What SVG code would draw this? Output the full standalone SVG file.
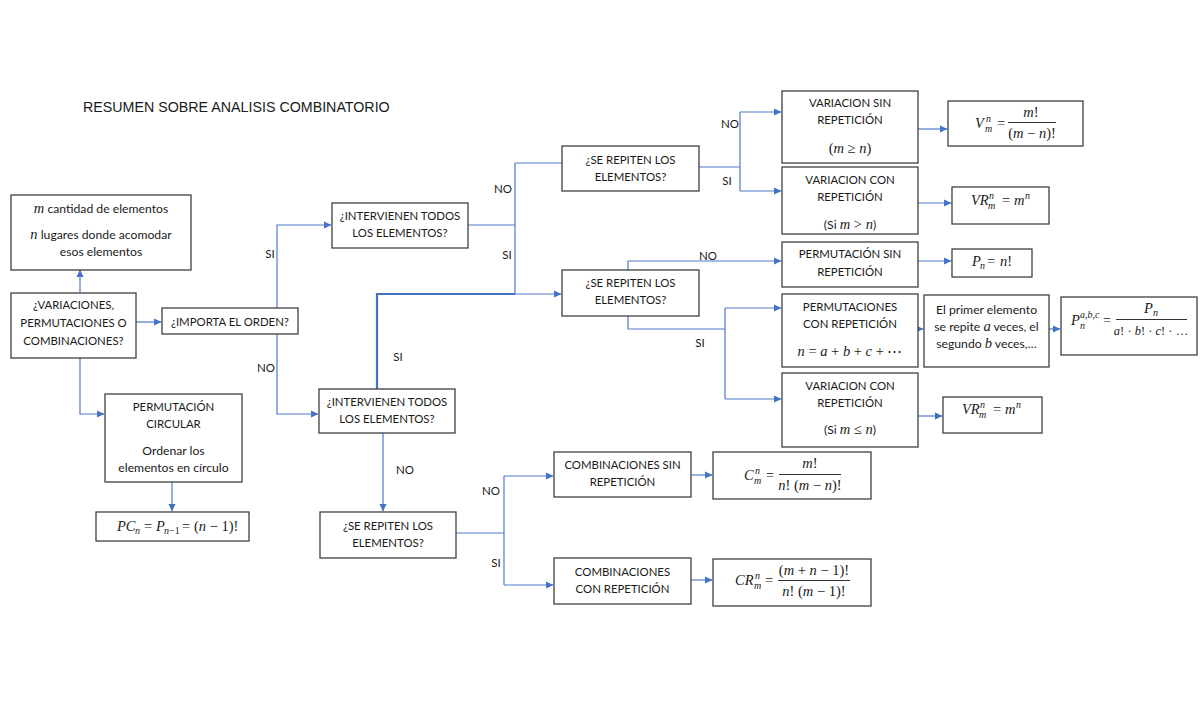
<svg xmlns="http://www.w3.org/2000/svg" width="1200" height="718" viewBox="0 0 1200 718">
<style>
.bx{fill:#fff;stroke:#3f3f3f;stroke-width:1.3}
.t{font-family:Lato,"Open Sans",sans-serif;font-size:11.4px;fill:#1a1a1a;text-anchor:middle}
.tl{font-family:Lato,"Open Sans",sans-serif;font-size:12.2px;fill:#1a1a1a;text-anchor:middle}
.lb{font-family:Lato,"Open Sans",sans-serif;font-size:11.5px;fill:#1a1a1a;text-anchor:middle}
.ttl{font-family:"Liberation Sans",Arial,sans-serif;font-size:14.25px;fill:#1a1a1a}
.m{font-family:"Liberation Serif","DejaVu Serif",serif;font-size:14.5px;fill:#1a1a1a}
.mc{font-family:"Liberation Serif","DejaVu Serif",serif;font-size:14.5px;fill:#1a1a1a;text-anchor:middle}
.i{font-style:italic}
.s{font-size:10px}
.c{fill:none;stroke:#4f7bcb;stroke-width:1.2}
.a{marker-end:url(#ah)}
.th{fill:none;stroke:#4472c4;stroke-width:2.2}
.fb{stroke:#1a1a1a;stroke-width:0.9}
</style>
<defs>
<marker id="ah" markerWidth="8" markerHeight="8" refX="7" refY="4" orient="auto" markerUnits="userSpaceOnUse"><path d="M0,0.5 L7.5,4 L0,7.5z" fill="#4472c4"/></marker>
</defs>
<rect width="1200" height="718" fill="#fff"/>
<text class="ttl" x="83" y="112">RESUMEN SOBRE ANALISIS COMBINATORIO</text>

<g id="connectors">
<path class="c a" d="M136,322 H161"/>
<path class="c a" d="M80,293 V270"/>
<path class="c a" d="M80,358 V414 H104"/>
<path class="c a" d="M172,482 V511"/>
<path class="c a" d="M277,308 V225 H331"/>
<path class="c a" d="M277,334 V414 H318"/>
<path class="c" d="M468,225 H515 M515,163 V294 M515,163 H562"/>
<path class="c a" d="M515,294 H561"/>
<path class="th" d="M377,389 V294 H515"/>
<path class="c" d="M699,167 H740 M740,112 V191"/>
<path class="c a" d="M740,112 H781"/>
<path class="c a" d="M740,191 H781"/>
<path class="c a" d="M918,129 H947"/>
<path class="c a" d="M918,203 H951"/>
<path class="c a" d="M628,270 V261 H781"/>
<path class="c" d="M628,316 V329 H725 M725,308 V399"/>
<path class="c a" d="M725,308 H781"/>
<path class="c a" d="M725,399 H781"/>
<path class="c a" d="M918,261 H951"/>
<path class="c a" d="M918,329 H923"/>
<path class="c a" d="M1049,329 H1060"/>
<path class="c a" d="M918,416 H942"/>
<path class="c a" d="M383,433 V511"/>
<path class="c" d="M456,533 H504 M504,476 V585"/>
<path class="c a" d="M504,476 H553"/>
<path class="c a" d="M504,585 H553"/>
<path class="c a" d="M691,475 H712"/>
<path class="c a" d="M691,580 H712"/>
</g>

<g id="labels">
<text class="lb" x="270" y="258">SI</text>
<text class="lb" x="266" y="372">NO</text>
<text class="lb" x="503" y="193">NO</text>
<text class="lb" x="507" y="259">SI</text>
<text class="lb" x="398" y="361">SI</text>
<text class="lb" x="730" y="128">NO</text>
<text class="lb" x="727" y="185">SI</text>
<text class="lb" x="708" y="260">NO</text>
<text class="lb" x="700" y="347">SI</text>
<text class="lb" x="405" y="474">NO</text>
<text class="lb" x="491" y="495">NO</text>
<text class="lb" x="496" y="567">SI</text>
</g>

<g id="n-info">
<rect class="bx" x="11" y="195" width="180" height="75"/>
<text class="tl" x="101" y="213"><tspan class="m i">m</tspan> cantidad de elementos</text>
<text class="tl" x="101" y="239"><tspan class="m i">n</tspan> lugares donde acomodar</text>
<text class="tl" x="101" y="256">esos elementos</text>
</g>
<g id="n-vpc">
<rect class="bx" x="11" y="293" width="125" height="65"/>
<text class="t" x="73.5" y="309">¿VARIACIONES,</text>
<text class="t" x="73.5" y="327">PERMUTACIONES O</text>
<text class="t" x="73.5" y="345">COMBINACIONES?</text>
</g>
<g id="n-orden">
<rect class="bx" x="162" y="308" width="136" height="26"/>
<text class="t" x="230" y="326">¿IMPORTA EL ORDEN?</text>
</g>
<g id="n-pcirc">
<rect class="bx" x="105" y="394" width="137" height="88"/>
<text class="t" x="173.5" y="411">PERMUTACIÓN</text>
<text class="t" x="173.5" y="428">CIRCULAR</text>
<text class="tl" x="173.5" y="455">Ordenar los</text>
<text class="tl" x="173.5" y="472">elementos en círculo</text>
</g>
<g id="n-pcf">
<rect class="bx" x="96" y="512" width="153" height="29"/>
<text class="m i" x="117" y="531">PC</text>
<text class="m i s" x="135" y="534">n</text>
<text class="mc" x="148" y="531">=</text>
<text class="m i" x="156" y="531">P</text>
<text class="m s" x="164" y="534"><tspan class="i">n</tspan>−1</text>
<text class="mc" x="186" y="531">=</text>
<text class="m" x="194" y="531">(<tspan class="i">n</tspan> − 1)!</text>
</g>
<g id="n-int1">
<rect class="bx" x="332" y="203" width="136" height="45"/>
<text class="t" x="400" y="220">¿INTERVIENEN TODOS</text>
<text class="t" x="400" y="237">LOS ELEMENTOS?</text>
</g>
<g id="n-int2">
<rect class="bx" x="319" y="389" width="136" height="44"/>
<text class="t" x="387" y="406">¿INTERVIENEN TODOS</text>
<text class="t" x="387" y="423">LOS ELEMENTOS?</text>
</g>
<g id="n-rep1">
<rect class="bx" x="562" y="146" width="137" height="45"/>
<text class="t" x="630.5" y="164">¿SE REPITEN LOS</text>
<text class="t" x="630.5" y="181">ELEMENTOS?</text>
</g>
<g id="n-rep2">
<rect class="bx" x="562" y="270" width="137" height="46"/>
<text class="t" x="630.5" y="287">¿SE REPITEN LOS</text>
<text class="t" x="630.5" y="304">ELEMENTOS?</text>
</g>
<g id="n-rep3">
<rect class="bx" x="320" y="512" width="136" height="46"/>
<text class="t" x="388" y="530">¿SE REPITEN LOS</text>
<text class="t" x="388" y="547">ELEMENTOS?</text>
</g>
<g id="n-vsr">
<rect class="bx" x="782" y="91" width="136" height="72"/>
<text class="t" x="850" y="107">VARIACION SIN</text>
<text class="t" x="850" y="124">REPETICIÓN</text>
<text class="mc" x="850" y="153">(<tspan class="i">m</tspan> ≥ <tspan class="i">n</tspan>)</text>
</g>
<g id="n-vcr1">
<rect class="bx" x="782" y="167" width="136" height="67"/>
<text class="t" x="850" y="184">VARIACION CON</text>
<text class="t" x="850" y="201">REPETICIÓN</text>
<text class="tl" x="850" y="229">(Si <tspan class="m i">m</tspan><tspan class="m"> &gt; </tspan><tspan class="m i">n</tspan>)</text>
</g>
<g id="n-psr">
<rect class="bx" x="782" y="242" width="136" height="45"/>
<text class="t" x="850" y="258">PERMUTACIÓN SIN</text>
<text class="t" x="850" y="276">REPETICIÓN</text>
</g>
<g id="n-pcr">
<rect class="bx" x="782" y="294" width="136" height="73"/>
<text class="t" x="850" y="311">PERMUTACIONES</text>
<text class="t" x="850" y="328">CON REPETICIÓN</text>
<text class="mc" x="850" y="356"><tspan class="i">n</tspan> = <tspan class="i">a</tspan> + <tspan class="i">b</tspan> + <tspan class="i">c</tspan> + ⋯</text>
</g>
<g id="n-vcr2">
<rect class="bx" x="782" y="373" width="136" height="74"/>
<text class="t" x="850" y="390">VARIACION CON</text>
<text class="t" x="850" y="407">REPETICIÓN</text>
<text class="tl" x="850" y="434">(Si <tspan class="m i">m</tspan><tspan class="m"> ≤ </tspan><tspan class="m i">n</tspan>)</text>
</g>
<g id="n-csr">
<rect class="bx" x="554" y="452" width="137" height="45"/>
<text class="t" x="622.5" y="469">COMBINACIONES SIN</text>
<text class="t" x="622.5" y="486">REPETICIÓN</text>
</g>
<g id="n-ccr">
<rect class="bx" x="554" y="558" width="137" height="46"/>
<text class="t" x="622.5" y="576">COMBINACIONES</text>
<text class="t" x="622.5" y="593">CON REPETICIÓN</text>
</g>
<g id="n-vf">
<rect class="bx" x="948" y="101" width="135" height="45"/>
<text class="m i" x="975" y="128">V</text>
<text class="m i s" x="985" y="132">m</text>
<text class="m i s" x="986" y="122">n</text>
<text class="mc" x="1001" y="128">=</text>
<text class="mc" x="1031" y="117"><tspan class="i">m</tspan>!</text>
<line class="fb" x1="1008" y1="122.5" x2="1056" y2="122.5"/>
<text class="mc" x="1032" y="138">(<tspan class="i">m</tspan> − <tspan class="i">n</tspan>)!</text>
</g>
<g id="n-vrf1">
<rect class="bx" x="952" y="187" width="97" height="37"/>
<text class="m i" x="971" y="205">VR</text>
<text class="m i s" x="988" y="209">m</text>
<text class="m i s" x="989" y="199">n</text>
<text class="mc" x="1006" y="205">=</text>
<text class="m i" x="1014" y="205">m</text>
<text class="m i s" x="1025" y="199">n</text>
</g>
<g id="n-pf">
<rect class="bx" x="952" y="249" width="80" height="28"/>
<text class="m i" x="972" y="266">P</text>
<text class="m i s" x="980" y="269">n</text>
<text class="mc" x="991" y="266">=</text>
<text class="m" x="1000" y="266"><tspan class="i">n</tspan>!</text>
</g>
<g id="n-desc">
<rect class="bx" x="924" y="295" width="125" height="72"/>
<text class="tl" x="986.5" y="314">El primer elemento</text>
<text class="tl" x="986.5" y="331">se repite <tspan class="m i">a</tspan> veces, el</text>
<text class="tl" x="986.5" y="348">segundo <tspan class="m i">b</tspan> veces,…</text>
</g>
<g id="n-pcrf">
<rect class="bx" x="1061" y="297" width="136" height="58"/>
<text class="m i" x="1071" y="325">P</text>
<text class="m i s" x="1080" y="329">n</text>
<text class="m i s" x="1080" y="318">a,b,c</text>
<text class="mc" x="1107" y="325">=</text>
<text class="mc" x="1151" y="313"><tspan class="i">P</tspan><tspan class="i s" dy="3">n</tspan></text>
<line class="fb" x1="1116" y1="319.5" x2="1187" y2="319.5"/>
<text class="mc" x="1151" y="335" style="font-size:12.5px"><tspan class="i">a</tspan>! · <tspan class="i">b</tspan>! · <tspan class="i">c</tspan>! · …</text>
</g>
<g id="n-vrf2">
<rect class="bx" x="943" y="397" width="99" height="36"/>
<text class="m i" x="962" y="414">VR</text>
<text class="m i s" x="979" y="418">m</text>
<text class="m i s" x="980" y="408">n</text>
<text class="mc" x="997" y="414">=</text>
<text class="m i" x="1005" y="414">m</text>
<text class="m i s" x="1016" y="408">n</text>
</g>
<g id="n-cf">
<rect class="bx" x="713" y="452" width="158" height="47"/>
<text class="m i" x="744" y="480">C</text>
<text class="m i s" x="754" y="484">m</text>
<text class="m i s" x="755" y="474">n</text>
<text class="mc" x="770" y="480">=</text>
<text class="mc" x="810" y="468"><tspan class="i">m</tspan>!</text>
<line class="fb" x1="779" y1="474.5" x2="841" y2="474.5"/>
<text class="mc" x="810" y="490"><tspan class="i">n</tspan>! (<tspan class="i">m</tspan> − <tspan class="i">n</tspan>)!</text>
</g>
<g id="n-crf">
<rect class="bx" x="713" y="559" width="158" height="47"/>
<text class="m i" x="735" y="585">CR</text>
<text class="m i s" x="754" y="589">m</text>
<text class="m i s" x="755" y="579">n</text>
<text class="mc" x="769" y="585">=</text>
<text class="mc" x="814" y="575">(<tspan class="i">m</tspan> + <tspan class="i">n</tspan> − 1)!</text>
<line class="fb" x1="778" y1="580.5" x2="850" y2="580.5"/>
<text class="mc" x="814" y="596"><tspan class="i">n</tspan>! (<tspan class="i">m</tspan> − 1)!</text>
</g>
</svg>
